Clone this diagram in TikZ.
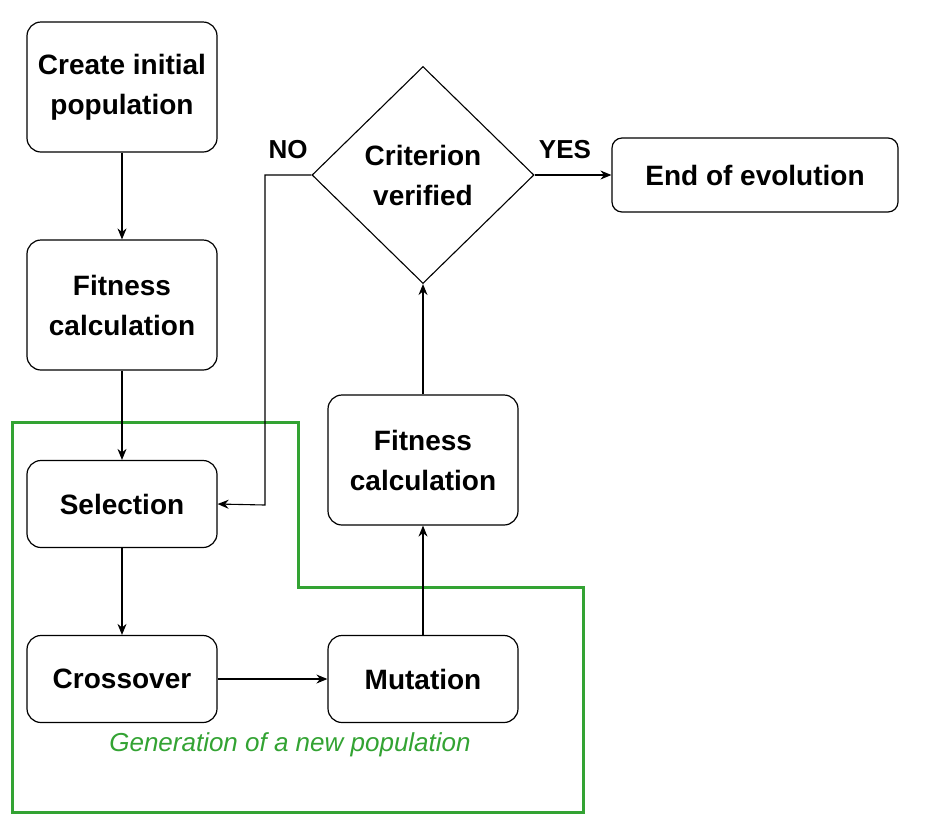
\documentclass[tikz,border=0pt]{standalone}
\usepackage{fontspec}
\setmainfont{Liberation Sans}
\usetikzlibrary{shapes.geometric,arrows.meta}
\begin{document}
\begin{tikzpicture}[x=1pt,y=-1pt,
 box/.style={draw,rounded corners=14pt,line width=1.2pt,align=center,font=\fontsize{28}{40}\selectfont\bfseries,inner sep=0pt},
 arr/.style={-{Stealth[length=11pt,width=9pt]},line width=1.1pt},
 lab/.style={font=\fontsize{26}{30}\selectfont\bfseries}]
\useasboundingbox (0,0) rectangle (925,823);
\node[box,minimum width=190pt,minimum height=130pt] (a) at (122,87) {Create initial\\population};
\node[box,minimum width=190pt,minimum height=130pt] (b) at (122,305) {Fitness\\calculation};
\node[box,minimum width=190pt,minimum height=87pt] (s) at (122,504) {Selection};
\node[box,minimum width=190pt,minimum height=87pt] (c) at (122,679) {Crossover};
\node[box,minimum width=190pt,minimum height=87pt] (m) at (423,679) {Mutation};
\node[box,minimum width=190pt,minimum height=130pt] (f) at (423,460) {Fitness\\calculation};
\node[draw,diamond,line width=1.1pt,minimum width=222pt,minimum height=217pt,inner sep=0pt,align=center,font=\fontsize{28}{40}\selectfont\bfseries] (d) at (423,175) {Criterion\\verified};
\node[box,rounded corners=10pt,minimum width=286pt,minimum height=74pt] (e) at (755,175) {End of evolution};
\draw[green!55!black!80,line width=3pt] (12,422) -- (298,422) -- (298,587) -- (583,587) -- (583,812) -- (12,812) -- cycle;
\node[text=green!55!black!80,font=\fontsize{26}{30}\selectfont\itshape] (g) at (290,745) {Generation of a new population};
\draw[arr] (a) -- (b);
\draw[arr] (b) -- (s);
\draw[arr] (s) -- (c);
\draw[arr] (c) -- (m);
\draw[arr] (m) -- (f);
\draw[arr] (f) -- (d.south);
\draw[arr] (d.east) -- (e.west);
\draw[arr] (d.west) -- (265,175) -- (265,505) -- (s.east);
\node[lab] (no) at (288,150) {NO};
\node[lab] (yes) at (565,150) {YES};
\end{tikzpicture}
\end{document}
